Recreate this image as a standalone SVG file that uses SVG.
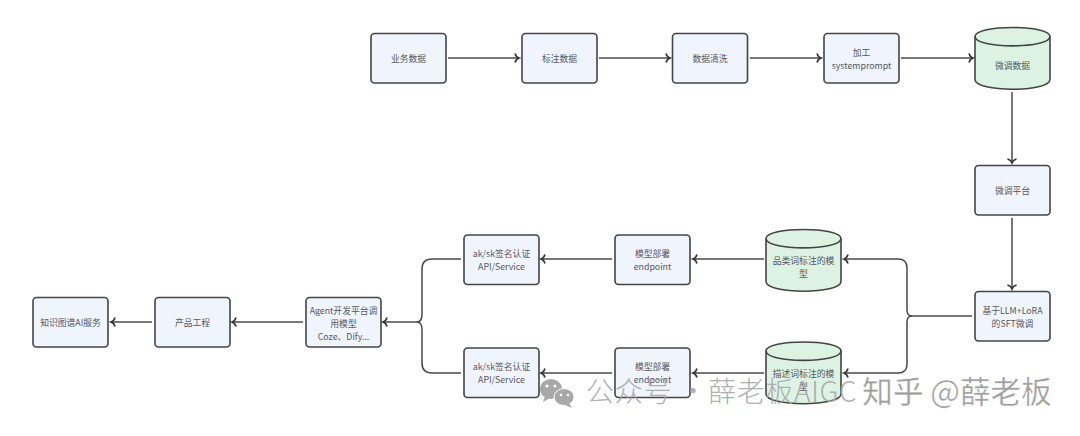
<svg xmlns="http://www.w3.org/2000/svg" width="1080" height="436" viewBox="0 0 1080 436">
<style>
text{font-family:"Noto Sans CJK SC","Noto Sans",sans-serif;font-size:8.8px;fill:#55585e;text-anchor:middle}
.n{fill:#f0f4fd;stroke:#444;stroke-width:1.6}
.c{fill:#dcf3e4;stroke:#444;stroke-width:1.6}
.l{fill:none;stroke:#4a4a4a;stroke-width:1.5;marker-end:url(#a)}
.p{fill:none;stroke:#4a4a4a;stroke-width:1.5}
.k{fill:none;stroke:#444;stroke-width:1.6}
.w{font-size:28px;font-weight:300;fill:#a6a6a6;fill-opacity:.9;text-anchor:start}
.z{font-size:31px;font-weight:500;fill:#a0a0a0;stroke:#fff;stroke-width:.7;text-anchor:start}
</style>
<defs>
<marker id="a" viewBox="0 0 10 12" refX="8" refY="6" markerWidth="10" markerHeight="12" markerUnits="userSpaceOnUse" orient="auto"><path d="M4 1.500Q5 5 8 6Q5 7 4 10.500" fill="none" stroke="#333" stroke-width="1.600"/></marker>
<path id="cy" d="M0 9C0 -3 75 -3 75 9V52C75 65 0 65 0 52Z"/>
</defs>
<rect width="1080" height="436" fill="#fff"/>
<g id="connectors">
<path class="l" d="M448 58H519"/>
<path class="l" d="M599 58H670"/>
<path class="l" d="M750 58H821"/>
<path class="l" d="M901 58H973"/>
<path class="l" d="M1012 92V163"/>
<path class="l" d="M1012 218V289"/>
<path class="p" d="M972 316H912"/>
<path class="l" d="M912 316Q907 316 907 310V268Q907 259 898 259H844"/>
<path class="l" d="M912 316Q907 316 907 322V364Q907 373 898 373H844"/>
<path class="l" d="M764 259H693"/>
<path class="l" d="M764 373H693"/>
<path class="l" d="M612 259H541"/>
<path class="l" d="M612 373H541"/>
<path class="p" d="M461 259H432Q422 259 422 269V314Q422 322 417 322"/>
<path class="p" d="M461 373H432Q422 373 422 363V330Q422 322 417 322"/>
<path class="l" d="M417 322H383"/>
<path class="l" d="M303 322H232"/>
<path class="l" d="M152 322H111"/>
</g>
<g id="n1"><rect class="n" x="371" y="33.500" width="75" height="49.500" rx="3.500"/><text x="408.500" y="61.500">业务数据</text></g>
<g id="n2"><rect class="n" x="522" y="33.500" width="75" height="49.500" rx="3.500"/><text x="559.500" y="61.500">标注数据</text></g>
<g id="n3"><rect class="n" x="672.500" y="33.500" width="75" height="49.500" rx="3.500"/><text x="710" y="61.500">数据清洗</text></g>
<g id="n4"><rect class="n" x="824" y="33.500" width="75" height="49.500" rx="3.500"/><text x="861.500" y="55.500">加工</text><text x="861.500" y="68.500">systemprompt</text></g>
<g id="n5"><use class="c" href="#cy" x="975" y="27.500"/><path class="k" d="M975 36.500C975 49 1050 49 1050 36.500"/><text x="1012.500" y="69">微调数据</text></g>
<g id="n6"><rect class="n" x="975" y="165.500" width="75" height="49.500" rx="3.500"/><text x="1012.500" y="194">微调平台</text></g>
<g id="n7"><rect class="n" x="975" y="291.500" width="75" height="49.500" rx="3.500"/><text x="1012.500" y="314">基于LLM+LoRA</text><text x="1012.500" y="327">的SFT微调</text></g>
<g id="n8"><use class="c" href="#cy" x="766" y="229.500"/><path class="k" d="M766 238.500C766 251 841 251 841 238.500"/><text x="803.500" y="264">品类词标注的模</text><text x="803.500" y="277">型</text></g>
<g id="n9"><use class="c" href="#cy" x="766" y="342"/><path class="k" d="M766 351C766 363.500 841 363.500 841 351"/><text x="803.500" y="377">描述词标注的模</text><text x="803.500" y="390">型</text></g>
<g id="n10"><rect class="n" x="615" y="235" width="75" height="49.500" rx="3.500"/><text x="652.500" y="257">模型部署</text><text x="652.500" y="270">endpoint</text></g>
<g id="n11"><rect class="n" x="615" y="348" width="75" height="49.500" rx="3.500"/><text x="652.500" y="370">模型部署</text><text x="652.500" y="383">endpoint</text></g>
<g id="n12"><rect class="n" x="464" y="235" width="75" height="49.500" rx="3.500"/><text x="501.500" y="257">ak/sk签名认证</text><text x="501.500" y="270">API/Service</text></g>
<g id="n13"><rect class="n" x="464" y="348" width="75" height="49.500" rx="3.500"/><text x="501.500" y="370">ak/sk签名认证</text><text x="501.500" y="383">API/Service</text></g>
<g id="n14"><rect class="n" x="306" y="297.500" width="75" height="49.500" rx="3.500"/><text x="343.500" y="314">Agent开发平台调</text><text x="343.500" y="327">用模型</text><text x="343.500" y="340">Coze、Dify...</text></g>
<g id="n15"><rect class="n" x="155" y="297.500" width="75" height="49.500" rx="3.500"/><text x="192.500" y="326">产品工程</text></g>
<g id="n16"><rect class="n" x="33" y="297.500" width="75" height="49.500" rx="3.500"/><text x="70.500" y="326">知识图谱AI服务</text></g>
<g id="watermark">
<ellipse cx="551" cy="389" rx="11" ry="10" fill="#a8a8a8"/><path d="M545 396l-2 6 7-4z" fill="#a8a8a8"/>
<ellipse cx="564" cy="397" rx="10" ry="8.500" fill="#a8a8a8" stroke="#fff"/><path d="M569 403l3 5-7-3z" fill="#a8a8a8"/>
<circle cx="547" cy="386" r="1.500" fill="#fff"/><circle cx="555" cy="386" r="1.500" fill="#fff"/>
<circle cx="561" cy="395" r="1.300" fill="#fff"/><circle cx="568" cy="395" r="1.300" fill="#fff"/>
<text class="w" x="586" y="402" style="letter-spacing:.7px">公众号 ·<tspan x="708">薛老板AIGC</tspan></text>
<text class="z" x="862" y="403" textLength="190">知乎 @薛老板</text>
</g>
</svg>
